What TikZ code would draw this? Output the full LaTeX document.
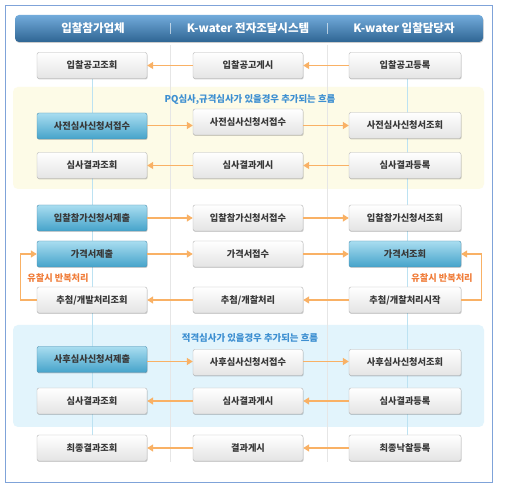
\documentclass[tikz,border=0pt]{standalone}
\usepackage{fontspec}
\setmainfont{Noto Sans CJK KR}
\usetikzlibrary{arrows.meta,shadows,calc}
\definecolor{framecol}{HTML}{7FA3D9}
\definecolor{headtop}{HTML}{72ABDB}
\definecolor{headbot}{HTML}{2F6593}
\definecolor{boxborder}{HTML}{B4B4B4}
\definecolor{boxbot}{HTML}{E4E4E4}
\definecolor{htop}{HTML}{A9DDF0}
\definecolor{hbot}{HTML}{45A3CA}
\definecolor{hborder}{HTML}{4A8FB0}
\definecolor{txt}{HTML}{383838}
\definecolor{arrcol}{HTML}{F9B165}
\definecolor{yel}{HTML}{FDFBE7}
\definecolor{lblue}{HTML}{E2F4FC}
\definecolor{titleblue}{HTML}{3D8FD1}
\definecolor{loopcol}{HTML}{F07D3A}
\definecolor{sepgray}{HTML}{E6E6E6}
\definecolor{vblue}{HTML}{BCE2F2}
\pgfdeclarelayer{bg}
\pgfdeclarelayer{mid}
\pgfsetlayers{bg,mid,main}
\begin{document}
\begin{tikzpicture}[x=1pt,y=-1pt,
  box/.style={draw=boxborder, rounded corners=2pt, minimum width=110pt, minimum height=26pt,
    inner sep=0pt, top color=white, bottom color=boxbot, text=txt,
    font=\fontsize{9.2}{10}\selectfont\bfseries,
    drop shadow={shadow xshift=0.6pt, shadow yshift=-1pt, opacity=0.18, fill=black}},
  hbox/.style={box, draw=hborder, top color=htop, bottom color=hbot},
  arr/.style={draw=arrcol, line width=1.3pt, -{Triangle[length=6pt,width=7pt]}},
  loop/.style={text=loopcol, font=\fontsize{9.2}{10}\selectfont\bfseries, inner sep=0pt},
  title/.style={text=titleblue, font=\fontsize{9.4}{10}\selectfont\bfseries, inner sep=0pt},
  head/.style={text=white, font=\fontsize{11.5}{13}\selectfont\bfseries, inner sep=0pt},
  vline/.style={draw=vblue, line width=0.8pt},
  sep/.style={draw=sepgray, line width=0.8pt}]
\useasboundingbox (0,0) rectangle (512,494);
\begin{pgfonlayer}{bg}
\draw[framecol, fill=white, line width=1pt] (5.5,5.5) rectangle (492.5,483);
\fill[yel, rounded corners=5pt] (13,87) rectangle (484,189);
\fill[lblue, rounded corners=5pt] (13,325) rectangle (484,427);
\end{pgfonlayer}
% header
\shade[top color=headtop, bottom color=headbot, rounded corners=4pt,
  drop shadow={shadow xshift=0.5pt, shadow yshift=-1pt, opacity=0.2, fill=black}]
  (15,15) rectangle (483,42);
\node[head] (h1) at (93,28.5) {입찰참가업체};
\node[head] (h2) at (248,28.5) {K-water 전자조달시스템};
\node[head] (h3) at (404,28.5) {K-water 입찰담당자};
\draw[white, opacity=0.6, line width=0.6pt] (170,23) -- (170,34);
\draw[white, opacity=0.6, line width=0.6pt] (327,23) -- (327,34);
\begin{pgfonlayer}{mid}
\draw[sep] (170,45) -- (170,462);
\draw[sep] (327,45) -- (327,462);
\end{pgfonlayer}
% titles
\node[title] (t1) at (250,100) {PQ심사,규격심사가 있을경우 추가되는 흐름};
\node[title] (t2) at (250,338) {적격심사가 있을경우 추가되는 흐름};
% row 1
\node[box] (l1) at (92,65.5) {입찰공고조회};
\node[box] (c1) at (248,65.5) {입찰공고게시};
\node[box, minimum width=112pt] (r1) at (405,65.5) {입찰공고등록};
% row 2
\node[hbox] (l2) at (92,126) {사전심사신청서접수};
\node[box] (c2) at (248,122) {사전심사신청서접수};
\node[box, minimum width=112pt] (r2) at (405,125.5) {사전심사신청서조회};
% row 3
\node[box] (l3) at (92,165.5) {심사결과조회};
\node[box] (c3) at (248,165.5) {심사결과게시};
\node[box, minimum width=112pt] (r3) at (405,165.5) {심사결과등록};
% row 4
\node[hbox] (l4) at (92,218) {입찰참가신청서제출};
\node[box] (c4) at (248,218) {입찰참가신청서접수};
\node[box, minimum width=112pt] (r4) at (405,218) {입찰참가신청서조회};
% row 5
\node[hbox] (l5) at (92,254) {가격서제출};
\node[box] (c5) at (248,254) {가격서접수};
\node[hbox, minimum width=112pt] (r5) at (405,254) {가격서조회};
% row 6
\node[box] (l6) at (92,300) {추첨/개발처리조회};
\node[box] (c6) at (248,300) {추첨/개찰처리};
\node[box, minimum width=112pt] (r6) at (405,300) {추첨/개찰처리시작};
% row 7
\node[hbox] (l7) at (92,359.5) {사후심사신청서제출};
\node[box] (c7) at (248,362.5) {사후심사신청서접수};
\node[box, minimum width=112pt] (r7) at (405,362.5) {사후심사신청서조회};
% row 8
\node[box] (l8) at (92,401) {심사결과조회};
\node[box] (c8) at (248,401) {심사결과게시};
\node[box, minimum width=112pt] (r8) at (405,401) {심사결과등록};
% row 9
\node[box] (l9) at (92,448) {최종결과조회};
\node[box] (c9) at (248,448) {결과게시};
\node[box, minimum width=112pt] (r9) at (405,448) {최종낙찰등록};
% column lines
\begin{pgfonlayer}{mid}
\draw[vline] ($(l1.south)+(0.7,0)$) -- ($(l9.north)+(0.7,0)$);
\draw[vline] ($(r1.south)+(2,0)$) -- ($(r9.north)+(2,0)$);
\end{pgfonlayer}
% arrows
\draw[arr] (r1.west) -- (c1.east);
\draw[arr] (c1.west) -- (l1.east);
\coordinate (a2) at ($(l2.east)+(0,-0.5)$);
\draw[arr] (a2) -- (a2 -| c2.west);
\coordinate (b2) at (c2.east |- a2);
\draw[arr] (b2) -- (b2 -| r2.west);
\draw[arr] (r3.west) -- (c3.east);
\draw[arr] (c3.west) -- (l3.east);
\draw[arr] (l4.east) -- (c4.west);
\draw[arr] (c4.east) -- (r4.west);
\draw[arr] (l5.east) -- (c5.west);
\draw[arr] (c5.east) -- (r5.west);
\draw[arr] (r6.west) -- (c6.east);
\draw[arr] (c6.west) -- (l6.east);
\coordinate (a7) at ($(l7.east)+(0,2)$);
\draw[arr] (a7) -- (a7 -| c7.west);
\coordinate (b7) at (c7.east |- a7);
\draw[arr] (b7) -- (b7 -| r7.west);
\draw[arr] (r8.west) -- (c8.east);
\draw[arr] (c8.west) -- (l8.east);
\draw[arr] (r9.west) -- (c9.east);
\draw[arr] (c9.west) -- (l9.east);
% loops
\draw[arr, rounded corners=0pt] (l6.west) -- ++(-16,0) |- (l5.west);
\draw[arr, rounded corners=0pt] (r6.east) -- ++(20,0) |- (r5.east);
\node[loop] (lp1) at (58,278) {유찰시 반복처리};
\node[loop] (lp2) at (442,278) {유찰시 반복처리};
\end{tikzpicture}
\end{document}
